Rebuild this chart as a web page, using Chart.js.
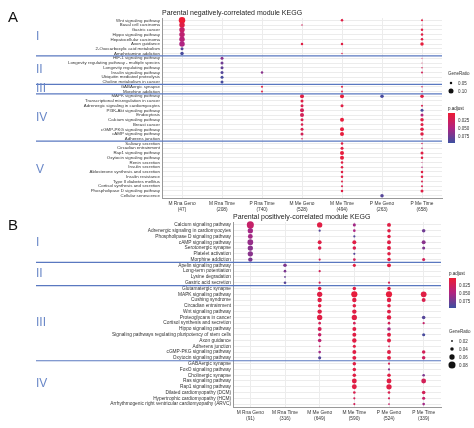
<!DOCTYPE html>
<html><head><meta charset="utf-8">
<script src="https://cdn.jsdelivr.net/npm/chart.js@4.4.0/dist/chart.umd.min.js"></script>
<style>
body{margin:0;background:#fff;width:474px;height:428px;overflow:hidden;font-family:Arial,"Liberation Sans",sans-serif}
.w{position:absolute;left:0}
</style></head><body>
<div class="w" style="top:0;width:474px;height:212px"><canvas id="chartA"></canvas></div>
<div class="w" style="top:210px;width:474px;height:218px"><canvas id="chartB"></canvas></div>
<script>
// ---- Panel A data ----
const rowsA = ['Wnt signaling pathway','Basal cell carcinoma','Gastric cancer','Hippo signaling pathway','Hepatocellular carcinoma','Axon guidance','2-Oxocarboxylic acid metabolism','Amphetamine addiction',
  'HIF-1 signaling pathway','Longevity regulating pathway - multiple species','Longevity regulating pathway','Insulin signaling pathway','Ubiquitin mediated proteolysis','Choline metabolism in cancer',
  'GABAergic synapse','Morphine addiction',
  'MAPK signaling pathway','Transcriptional misregulation in cancer','Adrenergic signaling in cardiomyocytes','PI3K-Akt signaling pathway','Endocytosis','Calcium signaling pathway','Breast cancer','cGMP-PKG signaling pathway','cAMP signaling pathway','Adherens junction',
  'Salivary secretion','Circadian entrainment','Rap1 signaling pathway','Oxytocin signaling pathway','Renin secretion','Insulin secretion','Aldosterone synthesis and secretion','Insulin resistance','Type II diabetes mellitus','Cortisol synthesis and secretion','Phospholipase D signaling pathway','Cellular senescence'];
const colsA = [['M Rna Geno','(47)'],['M Rna Time','(208)'],['P Rna Time','(740)'],['M Me Geno','(528)'],['M Me Time','(494)'],['P Me Geno','(263)'],['P Me Time','(658)']];
const sectionsA = [['I',0,7],['II',8,13],['III',14,15],['IV',16,25],['V',26,37]];
// [row, GeneRatio, p.adjust]
const aMRnaGeno = [[0,.13,0],[1,.11,.01],[2,.11,.03],[3,.11,.035],[4,.11,.04],[5,.11,.045],[6,.06,.08],[7,.07,.085]];
const aMRnaTime = [[8,.06,.06],[9,.06,.07],[10,.06,.075],[11,.06,.08],[12,.06,.085],[13,.06,.085]];
const aPRnaTime = [[11,.05,.06],[14,.04,.01],[15,.04,.01]];
const aMMeGeno = [[1,.03,.02],[5,.05,.01],[16,.08,.01],[17,.06,.01],[18,.06,.015],[19,.08,.02],[20,.08,.02],[21,.06,.015],[22,.05,.015],[23,.06,.015],[24,.06,.02],[25,.03,.02]];
const aMMeTime = [[0,.05,.01],[5,.05,.01],[7,.03,.015],[14,.04,.01],[15,.04,.01],[16,.08,.005],[18,.06,.01],[21,.08,.005],[23,.08,.005],[24,.08,.005],
  [26,.05,.01],[27,.06,.01],[28,.08,.005],[29,.08,.005],[30,.05,.01],[31,.05,.01],[32,.05,.01],[33,.05,.01],[34,.04,.01],[35,.04,.015],[36,.05,.01]];
const aPMeGeno = [[16,.07,.085],[37,.07,.08]];
const aPMeTime = [[0,.04,.01],[1,.02,.02],[2,.05,.01],[3,.05,.01],[4,.05,.01],[5,.07,.005],[8,.02,.02],[9,.02,.02],[10,.03,.02],[11,.04,.02],[14,.03,.02],[15,.03,.02],
  [16,.07,.01],[18,.04,.015],[19,.06,.085],[20,.06,.04],[21,.07,.01],[22,.06,.01],[23,.07,.01],[24,.07,.01],[25,.03,.02],
  [26,.03,.02],[27,.03,.03],[28,.06,.01],[29,.05,.01],[30,.02,.03],[31,.03,.04],[32,.05,.01],[33,.05,.01],[34,.04,.015],[35,.04,.015],[36,.06,.01]];
const seriesA = [aMRnaGeno,aMRnaTime,aPRnaTime,aMMeGeno,aMMeTime,aPMeGeno,aPMeTime];

// ---- Panel B data ----
const rowsB = ['Calcium signaling pathway','Adrenergic signaling in cardiomyocytes','Phospholipase D signaling pathway','cAMP signaling pathway','Serotonergic synapse','Platelet activation','Morphine addiction',
  'Apelin signaling pathway','Long-term potentiation','Lysine degradation','Gastric acid secretion',
  'Glutamatergic synapse','MAPK signaling pathway','Cushing syndrome','Circadian entrainment','Wnt signaling pathway','Proteoglycans in cancer','Cortisol synthesis and secretion','Hippo signaling pathway','Signaling pathways regulating pluripotency of stem cells','Axon guidance','Adherens junction','cGMP-PKG signaling pathway','Oxytocin signaling pathway',
  'GABAergic synapse','FoxO signaling pathway','Cholinergic synapse','Ras signaling pathway','Rap1 signaling pathway','Dilated cardiomyopathy (DCM)','Hypertrophic cardiomyopathy (HCM)','Arrhythmogenic right ventricular cardiomyopathy (ARVC)'];
const colsB = [['M Rna Geno','(91)'],['M Rna Time','(316)'],['M Me Geno','(649)'],['M Me Time','(590)'],['P Me Geno','(524)'],['P Me Time','(339)']];
const sectionsB = [['I',0,6],['II',7,10],['III',11,23],['IV',24,31]];
const bMRnaGeno = [[0,.08,.03],[1,.06,.05],[2,.055,.05],[3,.065,.055],[4,.06,.06],[5,.06,.06],[6,.05,.065]];
const bMRnaTime = [[7,.04,.065],[8,.03,.065],[9,.02,.075],[10,.03,.08]];
const bMMeGeno = [[0,.06,.01],[1,.025,.08],[3,.045,.01],[4,.04,.015],[6,.025,.02],[8,.025,.02],[10,.025,.02],[11,.04,.01],[12,.06,.01],[13,.05,.01],[14,.04,.01],[15,.05,.01],[16,.06,.01],[17,.03,.02],[18,.045,.02],[19,.04,.03],[20,.04,.035],[21,.02,.03],[22,.03,.05],[23,.035,.08]];
const bMMeTime = [[0,.035,.05],[1,.03,.045],[2,.025,.08],[3,.045,.01],[4,.04,.015],[5,.025,.08],[6,.03,.02],[7,.035,.01],[11,.04,.01],[12,.07,.005],[13,.05,.01],[14,.04,.01],[15,.05,.01],[16,.06,.01],[17,.03,.02],[18,.045,.01],[19,.045,.01],[20,.05,.01],[21,.035,.01],[22,.045,.01],[23,.045,.01],
  [24,.04,.01],[25,.04,.01],[26,.04,.01],[27,.055,.01],[28,.055,.01],[29,.03,.015],[30,.025,.02],[31,.025,.02]];
const bPMeGeno = [[0,.045,.01],[1,.04,.01],[2,.04,.01],[3,.045,.01],[4,.045,.01],[5,.04,.01],[6,.04,.01],[7,.045,.01],[10,.025,.02],[11,.04,.01],[12,.07,.005],[13,.05,.01],[14,.04,.01],[15,.045,.01],[16,.05,.01],[17,.03,.02],[18,.04,.05],[19,.045,.01],[20,.045,.01],[21,.02,.02],[22,.045,.01],[23,.045,.01],
  [24,.025,.02],[25,.025,.06],[26,.04,.01],[27,.055,.01],[28,.06,.01],[29,.03,.015],[30,.025,.02],[31,.02,.03]];
const bPMeTime = [[1,.04,.07],[3,.045,.06],[4,.035,.065],[6,.035,.02],[12,.065,.01],[13,.045,.015],[16,.04,.08],[17,.025,.03],[19,.035,.085],[22,.04,.02],[23,.04,.025],[26,.03,.065],[27,.055,.02],[29,.04,.02],[30,.035,.03],[31,.03,.05]];
const seriesB = [bMRnaGeno,bMRnaTime,bMMeGeno,bMMeTime,bPMeGeno,bPMeTime];

// p.adjust -> red / purple / blue
function pColor(p) {
  const stops = [[0,[238,28,52]],[0.045,[176,36,130]],[0.09,[60,80,160]]];
  p = Math.max(0, Math.min(0.09, p));
  let i = p <= 0.045 ? 0 : 1;
  const t = (p - stops[i][0]) / (stops[i+1][0] - stops[i][0]);
  const c = stops[i][1].map((v, k) => Math.round(v + (stops[i+1][1][k] - v) * t));
  return 'rgb(' + c.join(',') + ')';
}

function makeChart(id, rows, cols, series, opts) {
  const datasets = series.map((pts, ci) => ({
    data: pts.map(d => ({x: cols[ci].join(' '), y: rows[d[0]], r: d[1] * opts.rScale, p: d[2]})),
    backgroundColor: ctx => pColor(ctx.raw.p),
    borderWidth: 0
  }));
  const extras = {
    id: 'extras',
    afterDraw(chart) {
      const c = chart.ctx, ys = chart.scales.y, xa = chart.chartArea;
      c.save();
      c.font = '7px Arial'; c.fillStyle = '#222'; c.textAlign = 'left';
      c.fillText(opts.title, xa.left, xa.top - 3);
      c.font = '15px Arial'; c.fillStyle = '#111';
      c.fillText(opts.letter, 8, opts.letterY);
      const step = ys.getPixelForValue(1) - ys.getPixelForValue(0);
      c.strokeStyle = '#5a78c0'; c.lineWidth = 1.2;
      opts.sections.forEach((s, i) => {
        const y0 = ys.getPixelForValue(s[1]) - step / 2, y1 = ys.getPixelForValue(s[2]) + step / 2;
        if (i < opts.sections.length - 1) { c.beginPath(); c.moveTo(36, y1); c.lineTo(xa.right, y1); c.stroke(); }
        c.font = '12px Arial'; c.fillStyle = '#6a88c8'; c.textBaseline = 'middle';
        c.fillText(s[0], 36, (y0 + y1) / 2);
      });
      // colour bar legend
      const L = opts.legend;
      c.textBaseline = 'alphabetic'; c.fillStyle = '#222'; c.font = '4.5px Arial';
      c.fillText('p.adjust', L.cx, L.cy - 3);
      const g = c.createLinearGradient(0, L.cy, 0, L.cy + 30);
      g.addColorStop(0, pColor(0)); g.addColorStop(0.5, pColor(0.045)); g.addColorStop(1, pColor(0.09));
      c.fillStyle = g; c.fillRect(L.cx, L.cy, 7, 30);
      c.fillStyle = '#333';
      [['0.025',0.25],['0.050',0.5],['0.075',0.78]].forEach(t => c.fillText(t[0], L.cx + 10, L.cy + 30 * t[1] + 1.5));
      c.fillText('GeneRatio', L.sx, L.sy - 3);
      L.sizes.forEach((s, i) => {
        const yy = L.sy + 5 + i * 8;
        c.fillStyle = '#111'; c.beginPath(); c.arc(L.sx + 3, yy, s * opts.rScale, 0, Math.PI * 2); c.fill();
        c.fillStyle = '#333'; c.fillText(s.toFixed(2), L.sx + 10, yy + 1.5);
      });
      c.restore();
    }
  };
  return new Chart(document.getElementById(id), {
    type: 'bubble',
    data: {datasets},
    options: {
      responsive: true, maintainAspectRatio: false, animation: false,
      layout: {padding: {top: opts.top, right: opts.right, left: 0, bottom: 0}},
      plugins: {legend: {display: false}, tooltip: {enabled: false}},
      scales: {
        x: {type: 'category', labels: cols.map(c => c.join(' ')), offset: true,
          afterFit: a => { a.height = opts.xh; },
          grid: {color: '#ececec', drawTicks: false},
          border: {color: '#999'},
          ticks: {font: {size: 4.8}, color: '#333', padding: 3, maxRotation: 0,
            callback: (v, i) => cols[i]}},
        y: {type: 'category', labels: rows, offset: true,
          afterFit: a => { a.width = opts.yw; },
          grid: {color: '#ececec', drawTicks: false},
          border: {color: '#999'},
          ticks: {font: {size: opts.fy}, color: '#333', padding: 2, autoSkip: false}}
      }
    },
    plugins: [extras]
  });
}

makeChart('chartA', rowsA, colsA, seriesA, {title: 'Parental negatively-correlated module KEGG', letter: 'A', letterY: 22,
  sections: sectionsA, rScale: 25, top: 18, right: 32, xh: 14, yw: 162, fy: 4.4,
  legend: {cx: 448, cy: 113, sx: 448, sy: 78, sizes: [0.05, 0.10]}});
makeChart('chartB', rowsB, colsB, seriesB, {title: 'Parental positively-correlated module KEGG', letter: 'B', letterY: 20,
  sections: sectionsB, rScale: 44, top: 12, right: 33, xh: 21, yw: 233, fy: 4.8,
  legend: {cx: 449, cy: 68, sx: 449, sy: 126, sizes: [0.02, 0.04, 0.06, 0.08]}});
</script>
</body></html>
